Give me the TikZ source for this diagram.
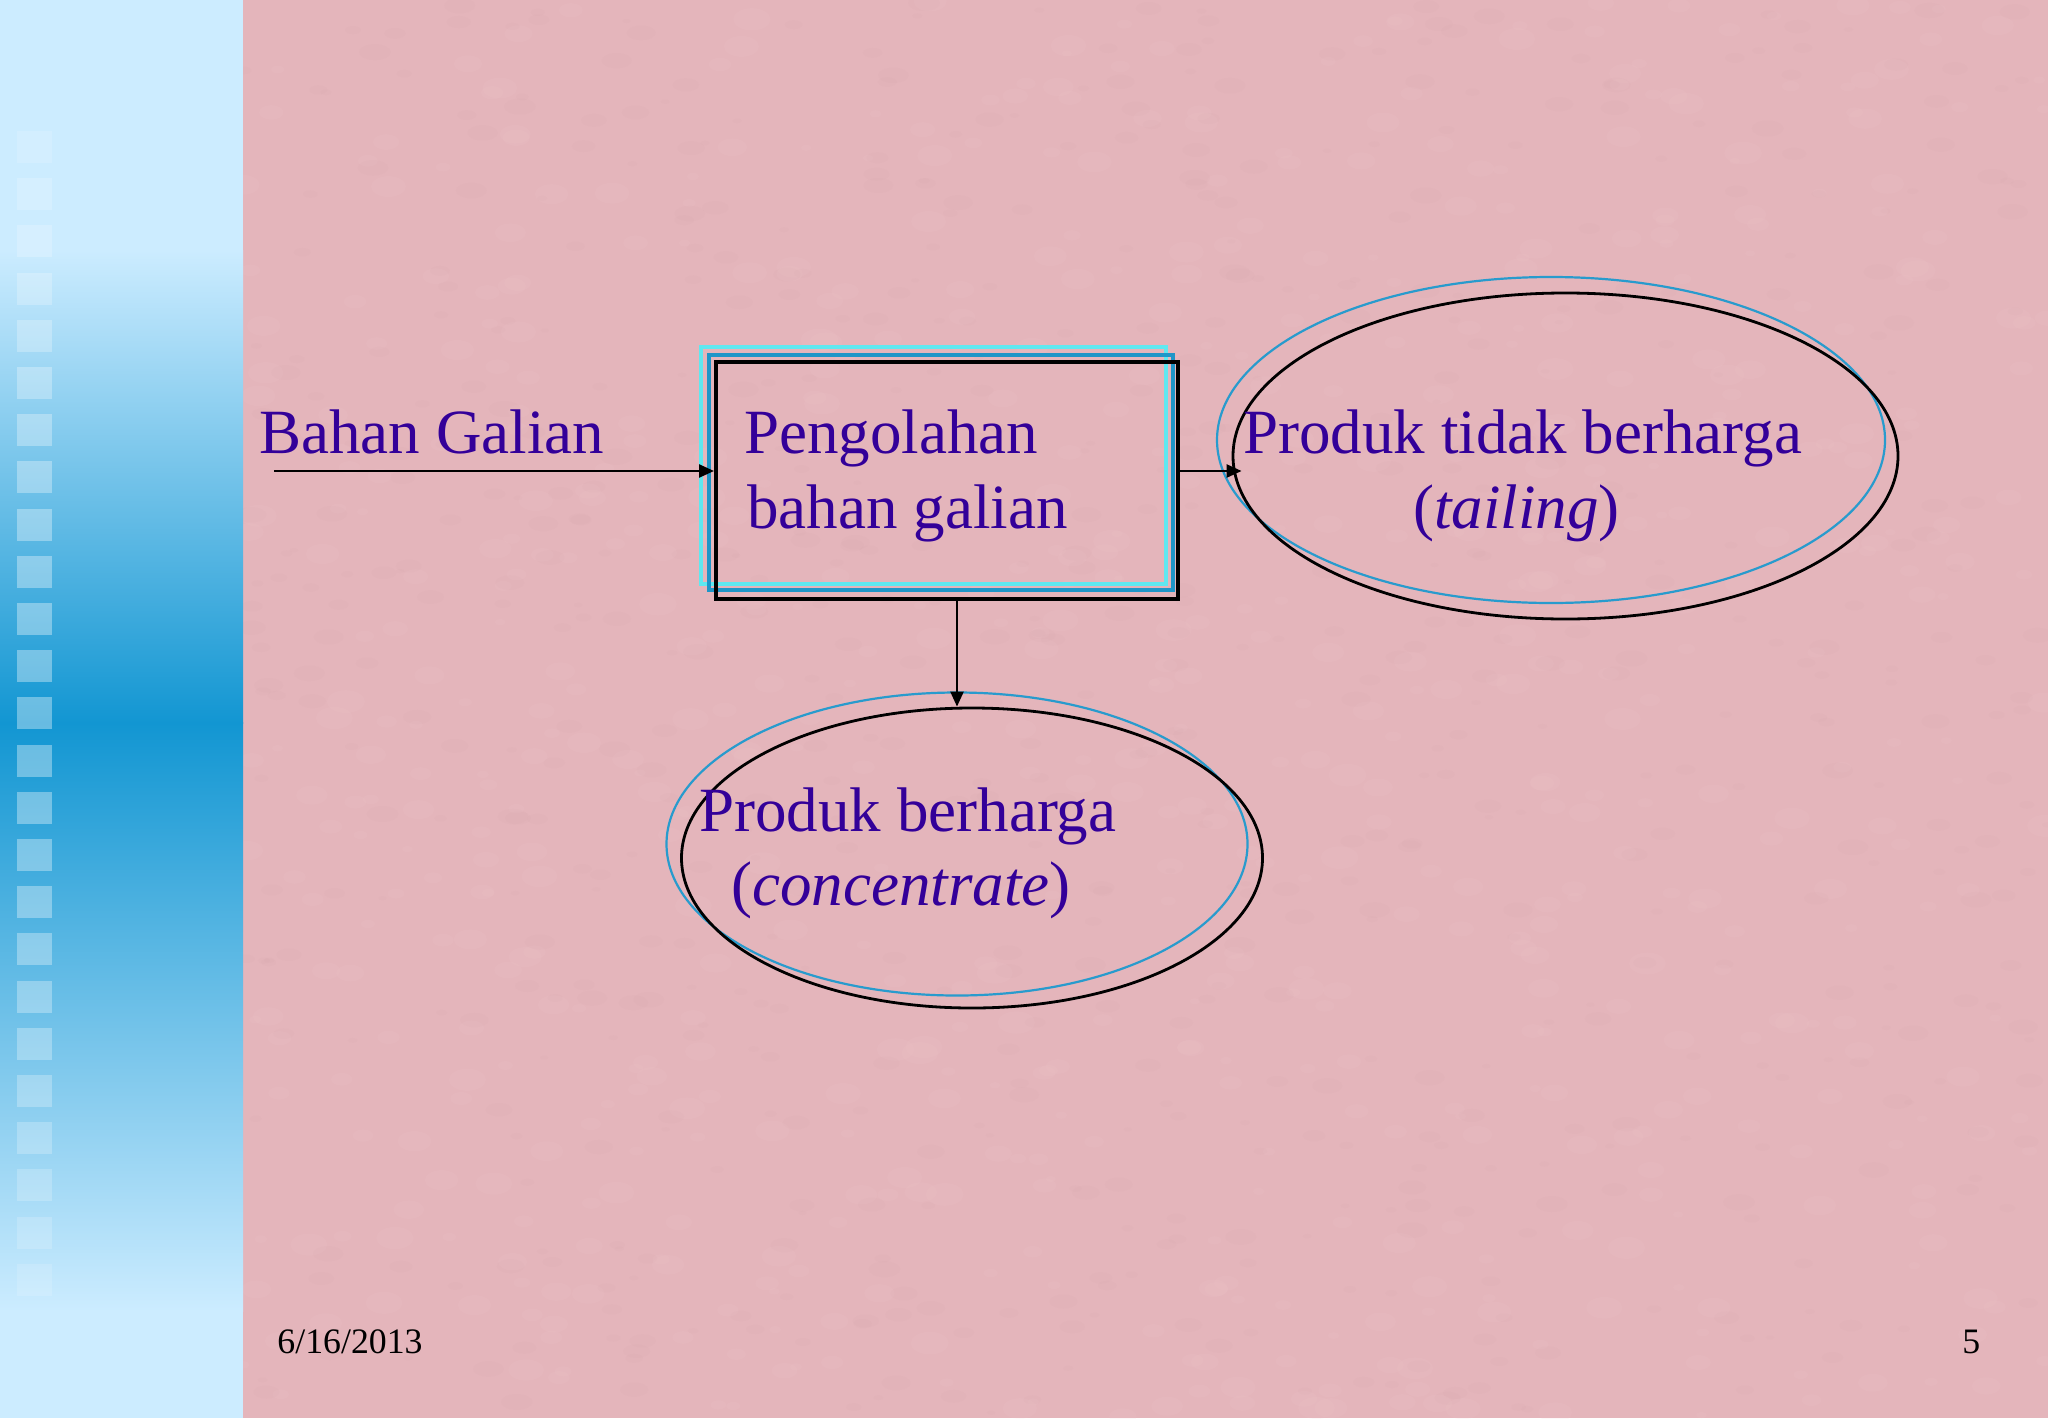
\documentclass[tikz,border=0pt]{standalone}
\usepackage{fontspec}
\setmainfont{Liberation Serif}
\usetikzlibrary{shapes.geometric,arrows.meta,calc}
\definecolor{pinkbg}{RGB}{228,181,187}
\definecolor{pinklight}{RGB}{240,200,205}
\definecolor{pinkdark}{RGB}{205,160,165}
\definecolor{txt}{RGB}{51,0,153}
\definecolor{panellight}{RGB}{204,236,255}
\definecolor{paneldark}{RGB}{18,150,210}
\definecolor{cyanline}{RGB}{95,232,240}
\definecolor{blueline}{RGB}{30,150,200}
\definecolor{ellblue}{RGB}{40,155,205}
\tikzset{
  txtn/.style={inner sep=0pt, anchor=base west, text=txt, font=\fontsize{31.5}{37.5}\selectfont},
  foot/.style={inner sep=0pt, anchor=base west, text=black, font=\fontsize{17.9}{21}\selectfont},
  arr/.style={line width=1.2pt, -{Triangle[length=7.5pt,width=6.5pt]}},
  blackell/.style={ellipse, draw=black, line width=1.4pt, inner sep=0pt},
  blueell/.style={ellipse, draw=ellblue, line width=1.1pt, inner sep=0pt},
  procbox/.style={rectangle, draw=black, line width=2pt, inner sep=0pt, minimum width=231pt, minimum height=118.5pt}
}
\begin{document}
\begin{tikzpicture}[x=0.5pt,y=-0.5pt]
\useasboundingbox (0,0) rectangle (2048,1418);
% background
\fill[pinkbg] (0,0) rectangle (2048,1418);
\pgfmathsetseed{7}
\begin{scope}
\clip (243,0) rectangle (2048,1418);
\foreach \k in {1,...,700} {
  \pgfmathsetmacro\xx{243+1805*rnd}
  \pgfmathsetmacro\yy{1418*rnd}
  \pgfmathsetmacro\rr{5+14*rnd}
  \fill[pinklight, opacity=0.12] (\xx,\yy) ellipse ({\rr} and {0.6*\rr});
}
\foreach \k in {1,...,700} {
  \pgfmathsetmacro\xx{243+1805*rnd}
  \pgfmathsetmacro\yy{1418*rnd}
  \pgfmathsetmacro\rr{4+12*rnd}
  \fill[pinkdark, opacity=0.08] (\xx,\yy) ellipse ({\rr} and {0.5*\rr});
}
\end{scope}
% left panel
\fill[panellight] (0,0) rectangle (243,1418);
\shade[top color=panellight,bottom color=paneldark] (0,250) rectangle (243,723.5);
\shade[top color=paneldark,bottom color=panellight] (0,722.5) rectangle (243,1311);
\foreach \i in {0,...,24} {
  \pgfmathsetmacro\op{0.36-0.22*((\i-12)/12)^2}
  \fill[white, opacity=\op] (17,{131+47.2*\i}) rectangle (52,{163+47.2*\i});
}
% process box
\draw[cyanline, line width=2pt] (701,347) rectangle (1166,584);
\draw[blueline, line width=2pt] (709,355) rectangle (1173,590);
\node[procbox] (box) at (947,480.5) {};
\node[txtn] (p1) at (744,453) {Pengolahan};
\node[txtn] (p2) at (747,528) {bahan galian};
% input
\node[txtn] (bahan) at (259,453) {Bahan Galian};
\coordinate (inS) at (274,471);
\draw[arr] (inS) -- (inS -| box.west);
% tailing
\node[blueell, minimum width=334pt, minimum height=163pt] (tailB) at (1551,440) {};
\node[blackell, minimum width=332.5pt, minimum height=163pt] (tailE) at (1565.5,456) {};
\node[txtn] (t1) at (1243,453) {Produk tidak berharga};
\node[txtn] (t2) at (1413,528) {(\textit{tailing})};
\coordinate (outS) at (1178,471);
\draw[arr] (box.east |- outS) -- ($(outS -| tailE.west)+(10,0)$);
% concentrate
\node[blueell, minimum width=290.5pt, minimum height=151.5pt] (conB) at (957,844) {};
\node[blackell, minimum width=290.5pt, minimum height=150pt] (conE) at (972,858) {};
\node[txtn] (c1) at (699,831) {Produk berharga};
\node[txtn] (c2) at (731,905) {(\textit{concentrate})};
\coordinate (dn) at (957,0);
\draw[arr] (box.south -| dn) -- (conE.north -| dn);
% footer
\node[foot] (date) at (277,1353) {6/16/2013};
\node[foot] (num) at (1962,1353) {5};
\end{tikzpicture}
\end{document}
